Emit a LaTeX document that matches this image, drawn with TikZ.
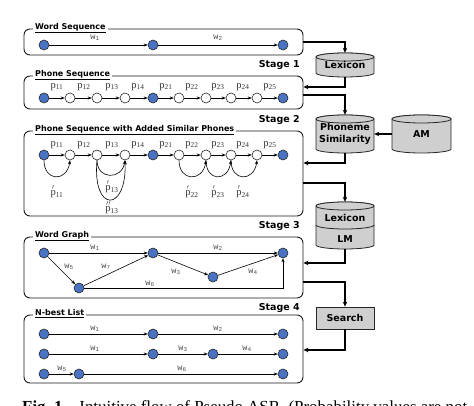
\documentclass[tikz,border=0pt]{standalone}
\usepackage{fontspec}
\setmainfont{Liberation Serif}
\newfontfamily\vdfont{DejaVu Sans}
\newfontfamily\monofont{Liberation Mono}
\usetikzlibrary{arrows.meta,calc}
\definecolor{nblue}{HTML}{4A72C2}
\definecolor{cgray}{HTML}{CFCFCF}
\newcommand\pl[1]{p\textsubscript{#1}}
\newcommand\plp[1]{\rlap{\hspace{1.2pt}\raisebox{6pt}{$\scriptstyle\prime$}}p\textsubscript{#1}}
\newcommand\plpp[1]{\rlap{\hspace{0.6pt}\raisebox{6pt}{$\scriptstyle\prime\prime$}}p\textsubscript{#1}}
\newcommand\wl[1]{w\textsubscript{#1}}
\newcommand\drawcyl[4]{%
  \pgfmathsetmacro\cxx{(#1+#2)/2}\pgfmathsetmacro\rxx{(#2-#1)/2}%
  \filldraw[cylstyle] (#1,#3+4) -- (#1,#4-4) arc[start angle=180,end angle=0,x radius=\rxx,y radius=4] -- (#2,#3+4) arc[start angle=0,end angle=-180,x radius=\rxx,y radius=4] -- cycle;
  \draw[cylstyle] (\cxx,#3+4) ellipse[x radius=\rxx,y radius=4];
}
\tikzset{
  bn/.style={circle,fill=nblue,draw=black!85,line width=0.6pt,minimum size=10pt,inner sep=0pt},
  wn/.style={circle,fill=white,draw=black!85,line width=0.6pt,minimum size=10pt,inner sep=0pt},
  pane/.style={draw=black!90,rounded corners=6pt,line width=0.9pt,inner sep=0pt},
  ttl/.style={fill=white,anchor=west,inner xsep=2pt,inner ysep=1pt,font=\vdfont\bfseries\fontsize{8}{9}\selectfont},
  stg/.style={anchor=east,inner sep=0pt,font=\vdfont\bfseries\fontsize{9.5}{11}\selectfont},
  wlab/.style={inner sep=0pt,text=black!70,font=\monofont\fontsize{8.5}{9}\selectfont},
  plab/.style={inner sep=0pt,text=black!80,font=\fontsize{10.5}{11}\selectfont},
  gedge/.style={line width=0.6pt,-{Stealth[length=4pt,width=3.2pt]}},
  flow/.style={line width=1.4pt,-{Stealth[length=5pt,width=4.5pt]}},
  cylstyle/.style={fill=cgray,draw=black!85,line width=0.8pt},
  ctext/.style={inner sep=0pt,align=center,font=\vdfont\bfseries\fontsize{9.5}{11.5}\selectfont}
}
\begin{document}
\begin{tikzpicture}[x=1pt,y=-1pt]
\useasboundingbox (0,0) rectangle (474,406);
% ---------- panes ----------
\node[pane,minimum width=279pt,minimum height=26pt] (ws) at (163.5,42) {};
\node[pane,minimum width=279pt,minimum height=33pt] (ps) at (163.5,92.5) {};
\node[pane,minimum width=279pt,minimum height=85pt] (sps) at (163.5,173.5) {};
\node[pane,minimum width=279pt,minimum height=61pt] (wg) at (163.5,267.5) {};
\node[pane,minimum width=279pt,minimum height=68pt] (nb) at (163.5,349) {};
\node[ttl] (t1) at (33,28) {\underline{Word Sequence}};
\node[ttl] (t2) at (33,75) {\underline{Phone Sequence}};
\node[ttl] (t3) at (33,130) {\underline{Phone Sequence with Added Similar Phones}};
\node[ttl] (t4) at (33,236) {\underline{Word Graph}};
\node[ttl] (t5) at (33,314) {\underline{N-best List}};
\node[stg] (st1) at (300,65) {Stage 1};
\node[stg] (st2) at (300,120) {Stage 2};
\node[stg] (st3) at (300,226) {Stage 3};
\node[stg] (st4) at (300,308) {Stage 4};
% ---------- word sequence ----------
\node[bn] (w0) at (44,45) {};
\node[bn] (w1) at (153,45) {};
\node[bn] (w2) at (283,45) {};
\draw[gedge] (w0) -- (w1);
\draw[gedge] (w1) -- (w2);
\node[wlab] (lw1) at (95,38) {\wl{1}};
\node[wlab] (lw2) at (218,38) {\wl{2}};
% ---------- phone sequence ----------
\node[bn] (a0) at (44,98) {};
\node[wn] (a1) at (70,98) {};
\node[wn] (a2) at (97,98) {};
\node[wn] (a3) at (125,98) {};
\node[bn] (a4) at (153,98) {};
\node[wn] (a5) at (179,98) {};
\node[wn] (a6) at (206,98) {};
\node[wn] (a7) at (231,98) {};
\node[wn] (a8) at (257,98) {};
\node[bn] (a9) at (283,98) {};
\foreach \i [evaluate=\i as \j using int(\i+1)] in {0,...,8} \draw[gedge] (a\i) -- (a\j);
\node[plab] (pa1) at (57,87) {\pl{11}};
\node[plab] (pa2) at (84,87) {\pl{12}};
\node[plab] (pa3) at (112,87) {\pl{13}};
\node[plab] (pa4) at (138,87) {\pl{14}};
\node[plab] (pa5) at (166,87) {\pl{21}};
\node[plab] (pa6) at (192,87) {\pl{22}};
\node[plab] (pa7) at (218,87) {\pl{23}};
\node[plab] (pa8) at (243,87) {\pl{24}};
\node[plab] (pa9) at (270,87) {\pl{25}};
% ---------- phone sequence with similar phones ----------
\node[bn] (b0) at (44,155) {};
\node[wn] (b1) at (70,155) {};
\node[wn] (b2) at (97,155) {};
\node[wn] (b3) at (125,155) {};
\node[bn] (b4) at (153,155) {};
\node[wn] (b5) at (179,155) {};
\node[wn] (b6) at (206,155) {};
\node[wn] (b7) at (231,155) {};
\node[wn] (b8) at (257,155) {};
\node[bn] (b9) at (283,155) {};
\foreach \i [evaluate=\i as \j using int(\i+1)] in {0,...,8} \draw[gedge] (b\i) -- (b\j);
\node[plab] (pb1) at (57,145) {\pl{11}};
\node[plab] (pb2) at (84,145) {\pl{12}};
\node[plab] (pb3) at (112,145) {\pl{13}};
\node[plab] (pb4) at (138,145) {\pl{14}};
\node[plab] (pb5) at (166,145) {\pl{21}};
\node[plab] (pb6) at (192,145) {\pl{22}};
\node[plab] (pb7) at (218,145) {\pl{23}};
\node[plab] (pb8) at (243,145) {\pl{24}};
\node[plab] (pb9) at (270,145) {\pl{25}};
\draw[gedge] (b0.south) .. controls (44,182) and (67,182) .. (b1.south);
\draw[gedge] (b2.south) .. controls (97,180) and (122,180) .. (b3.south);
\draw[gedge] (b2.south) .. controls (92,213) and (127,213) .. (b3.south);
\draw[gedge] (b5.south) .. controls (179,182) and (203,182) .. (b6.south);
\draw[gedge] (b6.south) .. controls (206,182) and (228,182) .. (b7.south);
\draw[gedge] (b7.south) .. controls (231,182) and (254,182) .. (b8.south);
\node[plab] (q1) at (57,192) {\plp{11}};
\node[plab] (q2) at (112,187) {\plp{13}};
\node[plab] (q3) at (112,208) {\plpp{13}};
\node[plab] (q4) at (192,192) {\plp{22}};
\node[plab] (q5) at (218,192) {\plp{23}};
\node[plab] (q6) at (243,192) {\plp{24}};
% ---------- word graph ----------
\node[bn] (gA) at (44,253) {};
\node[bn] (gB) at (153,253) {};
\node[bn] (gC) at (283,253) {};
\node[bn] (gD) at (79,288) {};
\node[bn] (gE) at (213,277) {};
\draw[gedge] (gA) -- (gB);
\draw[gedge] (gB) -- (gC);
\draw[gedge] (gA) -- (gD);
\draw[gedge] (gD) -- (gB);
\draw[gedge] (gB) -- (gE);
\draw[gedge] (gE) -- (gC);
\draw[gedge] (gD) -| (gC);
\node[wlab] (g1) at (95,248) {\wl{1}};
\node[wlab] (g2) at (218,248) {\wl{2}};
\node[wlab] (g5) at (69,267) {\wl{5}};
\node[wlab] (g7) at (106,267) {\wl{7}};
\node[wlab] (g3) at (176,272) {\wl{3}};
\node[wlab] (g4) at (253,272) {\wl{4}};
\node[wlab] (g6) at (150,284) {\wl{6}};
% ---------- n-best ----------
\node[bn] (r10) at (44,334) {};
\node[bn] (r11) at (153,334) {};
\node[bn] (r12) at (283,334) {};
\draw[gedge] (r10) -- (r11);
\draw[gedge] (r11) -- (r12);
\node[wlab] (l11) at (95,329) {\wl{1}};
\node[wlab] (l12) at (218,329) {\wl{2}};
\node[bn] (r20) at (44,354) {};
\node[bn] (r21) at (153,354) {};
\node[bn] (r22) at (213,354) {};
\node[bn] (r23) at (283,354) {};
\draw[gedge] (r20) -- (r21);
\draw[gedge] (r21) -- (r22);
\draw[gedge] (r22) -- (r23);
\node[wlab] (l21) at (95,349) {\wl{1}};
\node[wlab] (l22) at (183,349) {\wl{3}};
\node[wlab] (l23) at (247,349) {\wl{4}};
\node[bn] (r30) at (44,374) {};
\node[bn] (r31) at (79,374) {};
\node[bn] (r32) at (283,374) {};
\draw[gedge] (r30) -- (r31);
\draw[gedge] (r31) -- (r32);
\node[wlab] (l31) at (62,369) {\wl{5}};
\node[wlab] (l32) at (182,369) {\wl{6}};
% ---------- right column ----------
\drawcyl{316}{374}{53}{77}
\node[ctext,minimum width=58pt,minimum height=24pt] (lex) at (345,65) {Lexicon};
\drawcyl{316}{374}{115}{153}
\node[ctext,minimum width=58pt,minimum height=38pt] (phs) at (345,134) {Phoneme\\Similarity};
\drawcyl{392}{451}{115}{153}
\node[ctext,minimum width=59pt,minimum height=38pt] (am) at (421.5,134) {AM};
\drawcyl{316}{374}{202}{249}
\draw[cylstyle,fill=none] (316,225) arc[start angle=180,end angle=0,x radius=29,y radius=4];
\node[inner sep=0pt,minimum width=58pt,minimum height=47pt] (lexlm) at (345,225.5) {};
\node[ctext] (lexA) at (345,218) {Lexicon};
\node[ctext] (lexB) at (345,239) {LM};
\node[ctext,draw=black!85,fill=cgray,line width=0.8pt,minimum width=58pt,minimum height=22pt] (srch) at (345,318) {Search};
% flow connectors
\draw[flow] (ws.east) -| (lex.north);
\draw[flow] (lex.south) |- ($(ps.east)+(0,-5.5)$);
\draw[flow] ($(ps.east)+(0,2.5)$) -| (phs.north);
\draw[flow] (am.west) -- (am.west -| phs.east);
\draw[flow] (phs.south) |- ($(sps.east)+(0,-10.5)$);
\draw[flow] ($(sps.east)+(0,9.5)$) -| (lexlm.north);
\draw[flow] (lexlm.south) |- ($(wg.east)+(0,-4.5)$);
\draw[flow] ($(wg.east)+(0,14.5)$) -| (srch.north);
\draw[flow] (srch.south) |- ($(nb.east)+(0,1)$);
% caption (cut off at the bottom edge, as in the reference)
\node[anchor=north west,inner sep=0pt] (cap) at (22,400.5) {\resizebox{445pt}{!}{\textbf{Fig.\ 1}\quad Intuitive flow of Pseudo ASR. (Probability values are not}};
\end{tikzpicture}
\end{document}
